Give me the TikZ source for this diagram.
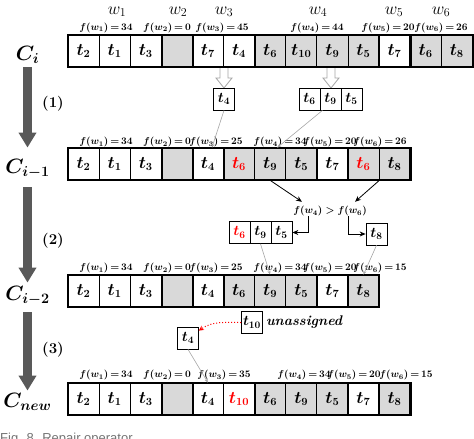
\documentclass[tikz,border=0pt]{standalone}
\usepackage{fontspec}
\newfontfamily\capfont{Liberation Sans}
\usetikzlibrary{arrows.meta,positioning}
\definecolor{cellgray}{gray}{0.85}
\definecolor{bigarrowgray}{gray}{0.35}
\newcommand\fval[2]{f(w_{#1})\,{=}\,#2}
\tikzset{
  cell/.style={draw, line width=0.7pt, minimum width=31.1pt, minimum height=32pt, inner sep=0pt, font=\boldmath\fontsize{16}{18}\selectfont},
  smallcell/.style={draw, line width=0.7pt, minimum width=21pt, minimum height=22pt, inner sep=0pt, font=\boldmath\fontsize{14}{16}\selectfont},
  group/.style={line width=2.2pt},
  flabel/.style={font=\boldmath\fontsize{10}{12}\selectfont, inner sep=0pt},
  wlabel/.style={font=\fontsize{18}{20}\selectfont, inner sep=0pt, anchor=base},
  clabel/.style={font=\boldmath\fontsize{20}{22}\selectfont, inner sep=0pt, anchor=base},
  steplabel/.style={font=\bfseries\fontsize{15}{17}\selectfont, inner sep=0pt},
  bigarrow/.style={bigarrowgray, line width=9pt, -{Triangle[width=17pt,length=15pt]}},
  thinline/.style={black!35, line width=0.6pt, -{Stealth[length=4pt,width=3pt]}},
  blackarrow/.style={line width=0.8pt, -{Stealth[length=6pt,width=5pt]}},
  hollow/.style={draw=black!35, fill=white, line width=0.8pt},
}
\begin{document}
\begin{tikzpicture}[x=1pt,y=-1pt]
\useasboundingbox (0,0) rectangle (474,439);
% w labels on top
\foreach \x [count=\i] in {117,178,224,318,394,441}
\node[wlabel] (w\i) at (\x,14) {$w_\i$};
% chromosome names and big arrows
\node[clabel] (ci) at (27.5,60) {$C_i$};
\node[clabel] (ci1) at (27.5,173) {$C_{i-1}$};
\node[clabel] (ci2) at (27.5,300) {$C_{i-2}$};
\node[clabel] (cnew) at (27.5,407) {$C_{new}$};
\foreach \a/\b/\s/\e in {ci/ci1/4pt/11pt, ci1/ci2/9pt/3pt, ci2/cnew/7pt/2pt}
\draw[bigarrow, shorten <=\s, shorten >=\e] (\a) -- (\b);
\node[steplabel] (s1) at (53,104) {(1)};
\node[steplabel] (s2) at (53,241) {(2)};
\node[steplabel] (s3) at (53,350) {(3)};

% row C_i
\foreach \lab/\f [count=\i] in {t_2/white,t_1/white,t_3/white,{}/cellgray,t_7/white,t_4/white,t_6/cellgray,t_{10}/cellgray,t_9/cellgray,t_5/cellgray,t_7/white,t_6/cellgray,t_8/cellgray}
\node[cell, fill=\f] (r1-\i) at ({68+(\i-0.5)*31.1},51) {$\lab$};
\foreach \i in {3,4,6,10,11} % edit here for group borders
\draw[group] (r1-\i.north east) -- (r1-\i.south east);
\draw[group] (r1-1.north west) rectangle (r1-13.south east);
\foreach \x/\v [count=\i] in {106/34,167/0,222/45,317/44,388/20,441/26}
\node[flabel] (f1-\i) at (\x,28) {$\fval{\i}{\v}$};

% taken out of C_i
\foreach \x in {224,331}
\draw[hollow, shift={(\x,0)}] (-4,68) -- (-4,78) -- (-8,78) -- (0,88) -- (8,78) -- (4,78) -- (4,68);
\node[smallcell] (b1) at (224,99) {$t_4$};
\foreach \lab [count=\i] in {t_6,t_9,t_5}
\node[smallcell] (b2-\i) at ({309.5+(\i-1)*21},99) {$\lab$};

% row C_{i-1}
\foreach \lab/\f [count=\i] in {t_2/white,t_1/white,t_3/white,{}/cellgray,t_4/white,{\color{red}t_6}/cellgray,t_9/cellgray,t_5/cellgray,t_7/white,{\color{red}t_6}/cellgray,t_8/cellgray}
\node[cell, fill=\f] (r2-\i) at ({68+(\i-0.5)*31.1},164) {$\lab$};
\foreach \i in {3,4,5,8,9}
\draw[group] (r2-\i.north east) -- (r2-\i.south east);
\draw[group] (r2-1.north west) rectangle (r2-11.south east);
\foreach \x/\v [count=\i] in {106/34,167/0,216/25,280/34,330/20,380/26}
\node[flabel] (f2-\i) at (\x,142) {$\fval{\i}{\v}$};
\draw[thinline] (b1.south) -- ([xshift=4pt]r2-5.north);
\draw[thinline] ([xshift=-8pt]b2-2.south) -- ([xshift=7pt]r2-7.north);

% compare the two copies of t6
\node[flabel] (cmp) at (330,211) {$f(w_4)>f(w_6)$};
\draw[blackarrow] (r2-7.south) -- ([xshift=-28pt,yshift=4pt]cmp.north);
\draw[blackarrow] (r2-10.south east) -- ([xshift=25pt,yshift=4pt]cmp.north);
\foreach \lab [count=\i] in {{\color{red}t_6},t_9,t_5}
\node[smallcell] (m-\i) at ({239.5+(\i-1)*21},232.5) {$\lab$};
\node[smallcell] (m8) at (376.5,234) {$t_8$};
\draw[blackarrow] ([xshift=-22pt]cmp.south) |- (m-3.east);
\draw[blackarrow] ([xshift=18pt]cmp.south) |- (m8.west);

% row C_{i-2}
\foreach \lab/\f [count=\i] in {t_2/white,t_1/white,t_3/white,{}/cellgray,t_4/white,t_6/cellgray,t_9/cellgray,t_5/cellgray,t_7/white,t_8/cellgray}
\node[cell, fill=\f] (r3-\i) at ({68+(\i-0.5)*31.1},291) {$\lab$};
\foreach \i in {3,4,5,8,9}
\draw[group] (r3-\i.north east) -- (r3-\i.south east);
\draw[group] (r3-1.north west) rectangle (r3-10.south east);
\foreach \x/\v [count=\i] in {106/34,167/0,216/25,280/34,330/20,380/15}
\node[flabel] (f3-\i) at (\x,268) {$\fval{\i}{\v}$};
\draw[thinline] (m-2.south) -- (r3-7.north);
\draw[thinline] (m8.south) -- (r3-10.north);

% unassigned task
\node[smallcell] (c4) at (188,338) {$t_4$};
\node[smallcell] (u10) at (252,322.5) {$t_{10}$};
\node[right=3pt of u10, inner sep=0pt, font=\fontsize{14}{16}\selectfont] (unas) {\textbf{\textit{unassigned}}};
\draw[red, dotted, line width=1pt, -{Stealth[length=5pt,width=5pt]}] (u10.west) to[out=180,in=35] ([yshift=-4pt]c4.north east);

% row C_new
\foreach \lab/\f [count=\i] in {t_2/white,t_1/white,t_3/white,{}/cellgray,t_4/white,{\color{red}t_{10}}/white,t_6/cellgray,t_9/cellgray,t_5/cellgray,t_7/white,t_8/cellgray}
\node[cell, fill=\f] (r4-\i) at ({68+(\i-0.5)*31.1},399) {$\lab$};
\foreach \i in {3,4,6,9,10}
\draw[group] (r4-\i.north east) -- (r4-\i.south east);
\draw[group] (r4-1.north west) rectangle (r4-11.south east);
\foreach \x/\v [count=\i] in {106/34,167/0,224/35,304/34,354/20,406/15}
\node[flabel] (f4-\i) at (\x,375) {$\fval{\i}{\v}$};
\draw[thinline] (c4.south) -- (r4-5.north);

% caption, cut off at the bottom
\node[anchor=north west, inner sep=0pt, font=\capfont\fontsize{13}{15}\selectfont, text=black!55] (cap) at (0,433) {Fig. 8. Repair operator};
\end{tikzpicture}
\end{document}
